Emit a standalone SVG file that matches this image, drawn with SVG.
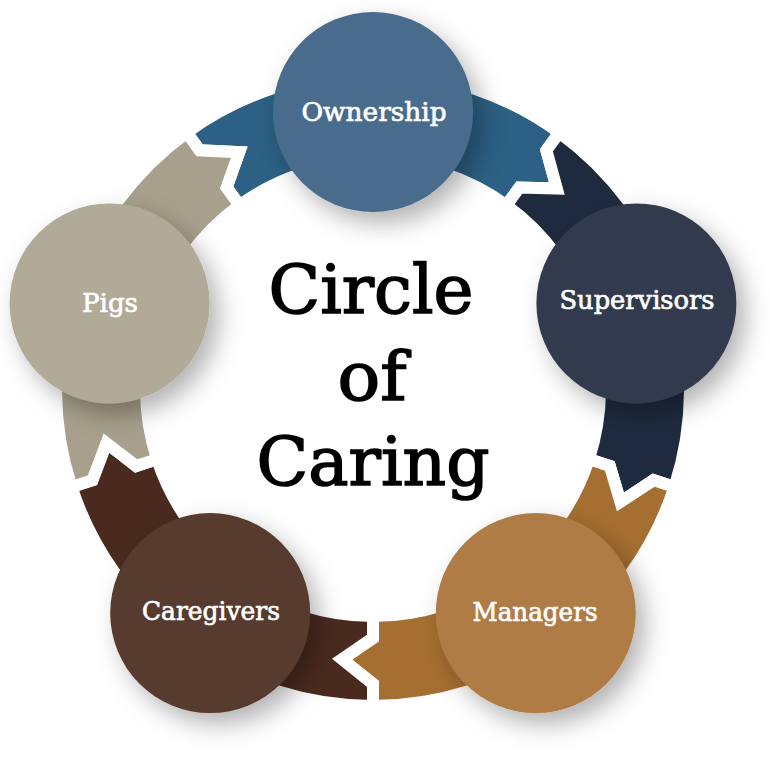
<svg xmlns="http://www.w3.org/2000/svg" width="770" height="759" viewBox="0 0 770 759">
<defs>
<filter id="sh" x="-40%" y="-40%" width="180%" height="180%">
<feDropShadow dx="9" dy="11" stdDeviation="12" flood-color="#000" flood-opacity="0.3"/>
</filter>
</defs>
<style>
.band{stroke:#fff;stroke-width:12;stroke-linejoin:miter}
.lbl{font-family:"DejaVu Serif","Liberation Serif",serif;font-size:26px;fill:#fff;stroke:#fff;stroke-width:0.7;text-anchor:middle}
.title{font-family:"DejaVu Serif","Liberation Serif",serif;font-size:68px;fill:#000;stroke:#000;stroke-width:1.6;text-anchor:middle}
</style>
<rect width="770" height="759" fill="#fff"/>
<g id="connectors">
<path class="band" fill="#2c6084" d="M186.67,132.54 A317,317 0 0 1 559.33,132.54 L546.40,150.34 L556.82,188.51 L519.36,187.55 L506.43,205.35 A227,227 0 0 0 239.57,205.35 L226.64,187.55 L239.23,152.17 L199.60,150.34 Z"/>
<path class="band" fill="#1e2a3e" d="M559.33,132.54 A317,317 0 0 1 674.49,486.96 L653.56,480.16 L620.45,501.92 L609.81,465.95 L588.89,459.15 A227,227 0 0 0 506.43,205.35 L519.36,187.55 L556.82,188.51 L546.40,150.34 Z"/>
<path class="band" fill="#a56f31" d="M674.49,486.96 A317,317 0 0 1 373,706 L373,684 L342.07,659.23 L373,638 L373,616 A227,227 0 0 0 588.89,459.15 L609.81,465.95 L620.45,501.92 L653.56,480.16 Z"/>
<path class="band" fill="#4a2a1f" d="M373,706 A317,317 0 0 1 71.51,486.96 L92.44,480.16 L106.43,443.09 L136.19,465.95 L157.11,459.15 A227,227 0 0 0 373,616 L373,638 L342.07,659.23 L373,684 Z"/>
<path class="band" fill="#a8a08c" d="M71.51,486.96 A317,317 0 0 1 186.67,132.54 L199.60,150.34 L239.23,152.17 L226.64,187.55 L239.57,205.35 A227,227 0 0 0 157.11,459.15 L136.19,465.95 L106.43,443.09 L92.44,480.16 Z"/>
</g>
<g id="ownership">
<circle cx="373" cy="112" r="100" fill="#4a6c8d" filter="url(#sh)"/>
<text class="lbl" x="374" y="121" textLength="145" lengthAdjust="spacingAndGlyphs">Ownership</text>
</g>
<g id="supervisors">
<circle cx="636.4" cy="303.4" r="100" fill="#323a4d" filter="url(#sh)"/>
<text class="lbl" x="637" y="309" textLength="155" lengthAdjust="spacingAndGlyphs">Supervisors</text>
</g>
<g id="managers">
<circle cx="535.8" cy="613.1" r="100" fill="#b07b45" filter="url(#sh)"/>
<text class="lbl" x="535" y="621" textLength="125" lengthAdjust="spacingAndGlyphs">Managers</text>
</g>
<g id="caregivers">
<circle cx="210.2" cy="613.1" r="100" fill="#563a2f" filter="url(#sh)"/>
<text class="lbl" x="211" y="620" textLength="138" lengthAdjust="spacingAndGlyphs">Caregivers</text>
</g>
<g id="pigs">
<circle cx="109.6" cy="303.4" r="100" fill="#b1aa98" filter="url(#sh)"/>
<text class="lbl" x="110" y="312" textLength="56" lengthAdjust="spacingAndGlyphs">Pigs</text>
</g>
<g id="title">
<text class="title" x="371" y="313" textLength="205" lengthAdjust="spacingAndGlyphs">Circle</text>
<text class="title" x="372" y="400" textLength="69" lengthAdjust="spacingAndGlyphs">of</text>
<text class="title" x="373" y="485" textLength="233" lengthAdjust="spacingAndGlyphs">Caring</text>
</g>
</svg>
